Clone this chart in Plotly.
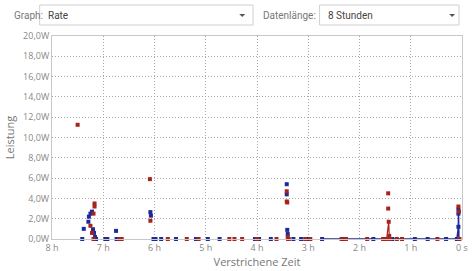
import plotly.graph_objects as go

# ---------------- data (hours ago, watts) ----------------
tick_hours = [0, 1, 2, 3, 4, 5, 6, 7, 8]
tick_labels = ["0 s", "1 h", "2 h", "3 h", "4 h", "5 h", "6 h", "7 h", "8 h"]

# blue series: isolated points (markers only)
blue_pts_h = [7.41, 7.38, 7.29, 7.28, 7.25, 7.22, 7.20, 7.18, 7.16, 7.14, 6.96, 6.92,
              6.75, 6.74, 6.08, 6.07, 6.02, 5.98, 5.87, 5.58, 5.19, 5.15, 4.96, 4.73,
              4.04, 3.96, 3.73, 3.42, 3.42, 3.41, 3.40, 3.39, 3.29, 3.14, 3.00]
blue_pts_w = [0.0, 1.0, 1.7, 2.2, 2.5, 2.7, 0.96, 0.6, 0.2, 0.0, 0.0, 0.0,
              0.8, 0.0, 2.65, 2.3, 0.0, 0.0, 0.0, 0.0, 0.0, 0.0, 0.0, 0.0,
              0.0, 0.0, 0.0, 5.4, 4.4, 0.9, 0.5, 0.0, 0.0, 0.0, 0.0]
# blue series: connected run at the end
blue_run_h = [2.73, 2.33, 2.27, 1.73, 1.36, 0.92, 0.67, 0.31, 0.10, 0.07, 0.07, 0.07, 0.06]
blue_run_w = [0.0, 0.0, 0.0, 0.0, 0.0, 0.0, 0.0, 0.0, 0.0, 1.2, 2.5, 2.9, 0.0]

# red series: isolated points
red_pts_h = [7.50, 7.17, 7.17, 7.19, 7.25, 7.22, 7.19, 6.69, 6.64, 6.09, 6.08, 5.74,
             5.37, 5.14, 4.54, 4.44, 4.29, 4.00, 3.62, 3.42, 3.42, 3.41, 3.40, 3.38,
             3.06, 2.96, 2.35, 2.27, 1.85, 1.54, 1.27, 1.17, 0.48, 0.07, 0.06, 0.05]
red_pts_w = [11.25, 3.5, 3.2, 2.5, 1.3, 0.6, 0.0, 0.0, 0.0, 5.9, 1.8, 0.0,
             0.0, 0.0, 0.0, 0.0, 0.0, 0.0, 0.0, 4.7, 3.7, 3.6, 0.2, 0.0,
             0.0, 0.0, 0.0, 0.0, 0.0, 0.0, 0.0, 0.0, 0.0, 3.2, 2.7, 0.0]
# red series: small connected spike
red_line_h = [1.47, 1.43, 1.42, 1.40]
red_line_w = [0.0, 1.7, 0.3, 0.0]
red_spike_h = [1.44, 1.44]
red_spike_w = [4.5, 3.0]

RED = "#a8221c"
BLUE = "#1c2a9a"

W, H = 474, 271
L, R, T, B = 52, 6, 36, 32
pw, ph = W - L - R, H - T - B

def px(x):
    return (x - L) / pw

def py(y):
    return (H - B - y) / ph

fig = go.Figure()
mk = dict(symbol="square", size=4)
fig.add_trace(go.Scatter(x=blue_run_h, y=blue_run_w, mode="lines+markers",
                         line=dict(color=BLUE, width=1.5), marker=dict(color=BLUE, **mk),
                         cliponaxis=False, showlegend=False))
fig.add_trace(go.Scatter(x=blue_pts_h, y=blue_pts_w, mode="markers",
                         marker=dict(color=BLUE, **mk), cliponaxis=False, showlegend=False))
fig.add_trace(go.Scatter(x=red_line_h, y=red_line_w, mode="lines+markers",
                         line=dict(color=RED, width=1.2), marker=dict(color=RED, **mk),
                         cliponaxis=False, showlegend=False))
fig.add_trace(go.Scatter(x=red_spike_h, y=red_spike_w, mode="markers",
                         marker=dict(color=RED, **mk), cliponaxis=False, showlegend=False))
fig.add_trace(go.Scatter(x=red_pts_h, y=red_pts_w, mode="markers",
                         marker=dict(color=RED, **mk), cliponaxis=False, showlegend=False))

FONT = "Open Sans"
GRID = dict(showgrid=True, gridcolor="#a8a8a8", griddash="1px,2px", gridwidth=1,
            showline=True, linecolor="#c8c8c8", linewidth=1, mirror=True,
            zeroline=False, ticks="", tickfont=dict(size=9, color="#888"))
fig.update_layout(
    width=W, height=H,
    margin=dict(l=L, r=R, t=T, b=B, pad=0),
    separators=",.",
    paper_bgcolor="white", plot_bgcolor="white",
    font=dict(family=FONT, color="#888", size=9),
    xaxis=dict(range=[8, 0], tickvals=tick_hours, ticktext=tick_labels,
               title=dict(text="Verstrichene Zeit", font=dict(size=11, color="#777"), standoff=4),
               **GRID),
    yaxis=dict(range=[0, 20], dtick=2, tickformat=".1f", ticksuffix="W",
               title=dict(text="Leistung", font=dict(size=11, color="#777"), standoff=6),
               **GRID),
)

# ---------------- header controls ----------------
shapes = []
def box(x0, x1):
    shapes.append(dict(type="rect", xref="paper", yref="paper",
                       x0=px(x0), x1=px(x1), y0=py(25), y1=py(5),
                       line=dict(color="#d0d0d0", width=1), fillcolor="white", layer="above"))
box(39.5, 256)
box(323.5, 465)
for cx in (245, 458):
    shapes.append(dict(type="path", xref="paper", yref="paper",
                       path=f"M {px(cx-3)} {py(14)} L {px(cx+3)} {py(14)} L {px(cx)} {py(17)} Z",
                       fillcolor="#555", line=dict(width=0), layer="above"))
fig.update_layout(shapes=shapes)

HFONT = "Roboto"
anns = [
    ("Graph:", 11, "#777"),
    ("Rate", 46, "#444"),
    ("Datenlänge:", 264, "#777"),
    ("8 Stunden", 330, "#444"),
]
for text, x, col in anns:
    fig.add_annotation(text=text, xref="paper", yref="paper", x=px(x), y=py(15),
                       xanchor="left", yanchor="middle", showarrow=False,
                       font=dict(family=HFONT, size=10, color=col))

fig.write_html("out.html")
